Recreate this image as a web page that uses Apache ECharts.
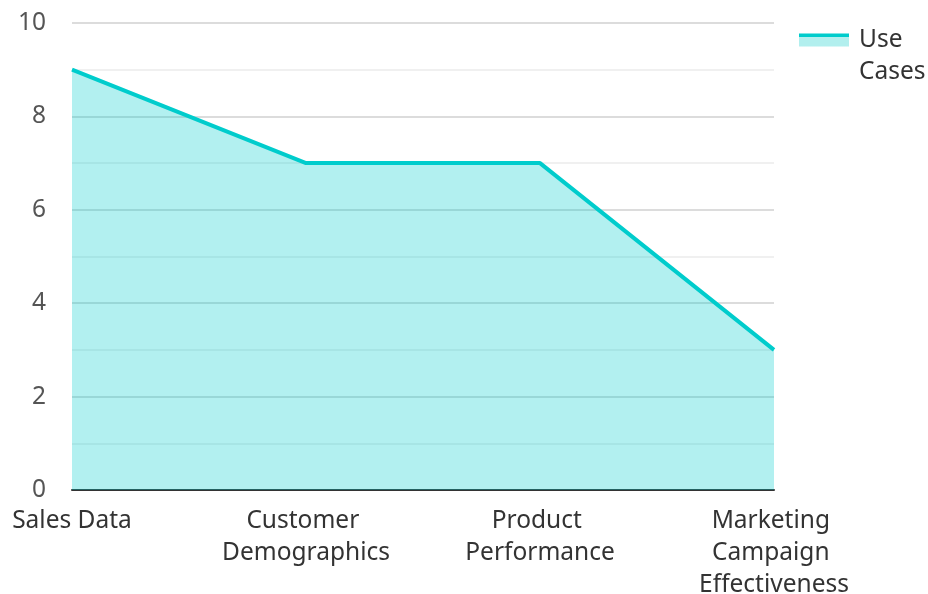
<!DOCTYPE html>
<html><head><meta charset="utf-8">
<script src="https://cdn.jsdelivr.net/npm/echarts@6/dist/echarts.min.js"></script>
<style>html,body{margin:0;padding:0;background:#fff}#c{width:928px;height:594px}</style>
</head><body><div id="c"></div>
<script>
const categories = ['Sales Data', 'Customer Demographics', 'Product Performance', 'Marketing Campaign Effectiveness'];
const seriesName = 'Use Cases';
const values = [9, 7, 7, 3];
const yTicks = [0, 2, 4, 6, 8, 10];

const FONT = 'Noto Sans';
const FS = 24.5;
const chart = echarts.init(document.getElementById('c'), null, {renderer: 'canvas'});
chart.setOption({
  backgroundColor: '#fff',
  animation: false,
  textStyle: {fontFamily: FONT},
  grid: {left: 72, right: 154, top: 23, bottom: 104, containLabel: false, outerBoundsMode: 'none'},
  legend: {
    data: [seriesName],
    left: 799, top: -8,
    padding: 0,
    itemWidth: 50, itemHeight: 13,
    icon: 'rect',
    itemStyle: {
      color: {type: 'linear', x: 0, y: 0, x2: 0, y2: 1, colorStops: [
        {offset: 0, color: '#00cccc'}, {offset: 0.3, color: '#00cccc'},
        {offset: 0.3, color: '#b2efee'}, {offset: 1, color: '#b2efee'}]},
      borderWidth: 0
    },
    lineStyle: {width: 0},
    formatter: n => '\n' + n.replace(/ /g, '\n'),
    textStyle: {fontFamily: FONT, fontSize: FS, color: '#333', lineHeight: 32, padding: [0, 0, 0, 5]}
  },
  xAxis: {
    type: 'category',
    data: categories,
    boundaryGap: false,
    axisLine: {show: true, lineStyle: {color: '#333', width: 2}},
    axisTick: {show: false},
    splitLine: {show: false},
    axisLabel: {
      fontFamily: FONT, fontSize: FS, color: '#333', lineHeight: 32, margin: 15,
      interval: 0, width: 180, overflow: 'break'
    }
  },
  yAxis: {
    type: 'value',
    min: 0, max: 10, interval: 2,
    axisLine: {show: false},
    axisTick: {show: false},
    axisLabel: {fontFamily: FONT, fontSize: FS, color: '#555', margin: 26, padding: [4, 0, 0, 0],
      formatter: v => yTicks.includes(v) ? String(v) : ''},
    splitLine: {show: true, lineStyle: {color: '#d0d0d0', width: 1.5}},
    minorTick: {show: false, splitNumber: 2},
    minorSplitLine: {show: true, lineStyle: {color: '#ebebeb', width: 1.5}}
  },
  series: [{
    name: seriesName,
    type: 'line',
    data: values,
    showSymbol: false,
    symbol: 'none',
    lineStyle: {color: '#00cccc', width: 4},
    itemStyle: {color: '#00cccc'},
    areaStyle: {color: 'rgba(0,204,204,0.3)', opacity: 1}
  }]
});
</script></body></html>
